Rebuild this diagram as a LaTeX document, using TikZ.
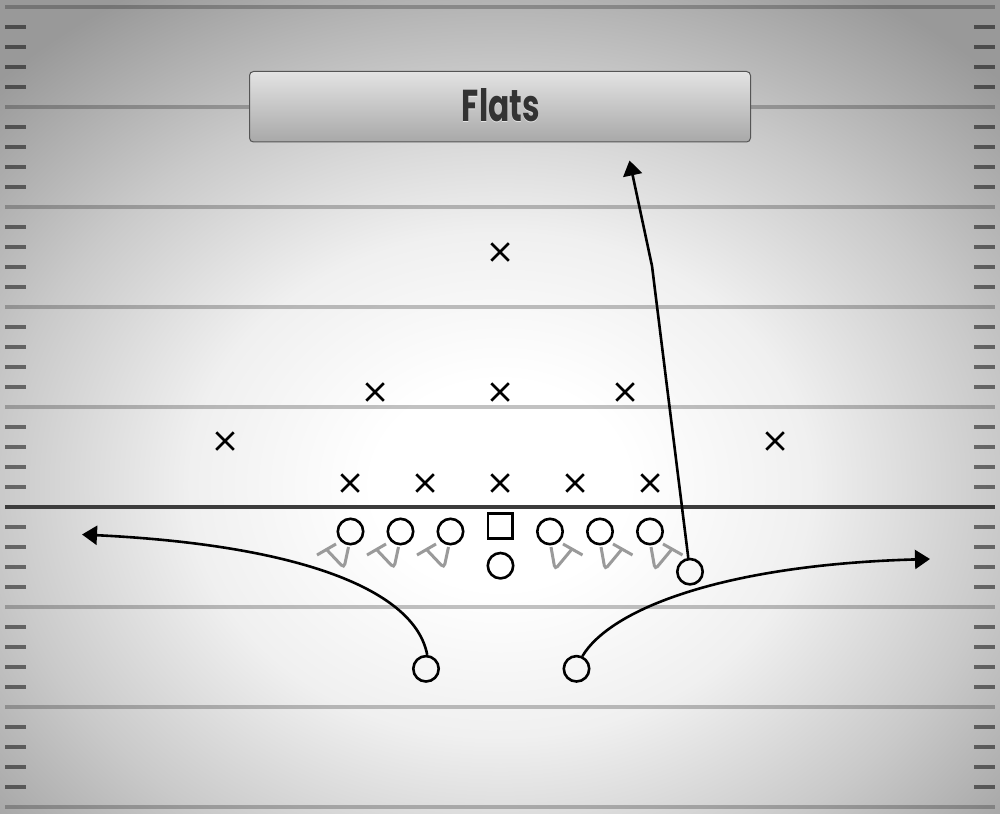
\documentclass[tikz,border=0pt]{standalone}
\usepackage{fontspec}
\newfontfamily\titlefont{Poppins}
\usetikzlibrary{arrows.meta,shapes.misc}
\definecolor{losgray}{HTML}{3C3C3C}
\definecolor{blockgray}{HTML}{9A9A9A}
\definecolor{titleink}{HTML}{333333}
\definecolor{boxborder}{HTML}{555555}
\pgfdeclareradialshading{fieldshade}{\pgfpoint{0bp}{0bp}}{color(0bp)=(white); color(4.5bp)=(white); color(11bp)=(black!6); color(17.7bp)=(black!21); color(25bp)=(black!40); color(50bp)=(black!40)}
\begin{document}
\begin{tikzpicture}[x=1pt,y=-1pt,
  yard/.style={line width=3.5pt, draw=black, draw opacity=0.24},
  hashmark/.style={line width=4pt, draw=black, draw opacity=0.5},
  scrimmage/.style={line width=4pt, draw=losgray},
  titlebox/.style={rectangle, rounded corners=4pt, draw=boxborder, line width=1pt,
    top color=black!11, bottom color=black!34, minimum width=501pt, minimum height=70.5pt, inner sep=0pt},
  titletext/.style={anchor=base, inner sep=0pt, text=titleink, font=\titlefont\bfseries},
  defender/.style={cross out, draw=black, line width=2.5pt, minimum size=15pt, inner sep=0pt},
  offense/.style={circle, draw=black, line width=2.6pt, minimum size=25.4pt, inner sep=0pt},
  snapbox/.style={rectangle, draw=black, line width=2.6pt, minimum size=24.5pt, inner sep=0pt},
  route/.style={line width=2.6pt, draw=black, -{Triangle[length=15pt,width=19pt]}},
  blockpath/.style={line width=3pt, draw=blockgray, rounded corners=4pt}
]
\clip (0,0) rectangle (1000,813);
\shade[shading=fieldshade] (-207,-90) rectangle (1207,1060);

% yard lines
\foreach \yy in {7,107,207,307,407,607,707,807}
  \draw[yard] (5,\yy) -- (995,\yy);
% hash marks
\foreach \base in {0,100,...,700}
  \foreach \k in {27,47,67,87} {
    \draw[hashmark] (5,\base+\k) -- (26,\base+\k);
    \draw[hashmark] (974,\base+\k) -- (995,\base+\k);
  }
% line of scrimmage
\draw[scrimmage] (5,507) -- (995,507);

% title
\node[titlebox] (title) at (500,106.75) {};
\node[titletext, text=white, opacity=0.6] (titleglow) at (501,123) {\resizebox{78pt}{33pt}{Flats}};
\node[titletext] (titlelabel) at (501,121.7) {\resizebox{78pt}{33pt}{Flats}};

% defense
\node[defender] (d1) at (500,252) {};
\node[defender] (d2) at (375,392) {};
\node[defender] (d3) at (500,392) {};
\node[defender] (d4) at (625,392) {};
\node[defender] (d5) at (225,441) {};
\node[defender] (d6) at (775,441) {};
\node[defender] (d7) at (350,483) {};
\node[defender] (d8) at (425,483) {};
\node[defender] (d9) at (500,483) {};
\node[defender] (d10) at (575,483) {};
\node[defender] (d11) at (650,483) {};

% offense
\node[offense] (lt) at (350.5,531.5) {};
\node[offense] (lg) at (400.5,531.5) {};
\node[offense] (lc) at (450.5,531.5) {};
\node[snapbox] (c) at (500.3,526) {};
\node[offense] (rc) at (550,531.5) {};
\node[offense] (rg) at (600,531.5) {};
\node[offense] (rt) at (650,531.5) {};
\node[offense] (qb) at (500.5,565.7) {};
\node[offense] (wr) at (690,571.7) {};
\node[offense] (b1) at (426,668.8) {};
\node[offense] (b2) at (576.5,668.8) {};

% blocking marks, left side
\foreach \p in {lt,lg,lc} {
  \begin{scope}[shift={(\p.center)}]
    \draw[blockpath] (-2,15.5) -- (-6.5,36.5) -- (-24,18);
    \draw[line width=3pt, draw=blockgray] (-33.5,23.5) -- (-14.5,12.5);
  \end{scope}
}
% blocking marks, right side
\foreach \p in {rc,rg,rt} {
  \begin{scope}[shift={(\p.center)}]
    \draw[blockpath] (1,15.5) -- (5,38) -- (22,17.5);
    \draw[line width=3pt, draw=blockgray] (13,12.5) -- (32.5,23.5);
  \end{scope}
}

% routes
\coordinate (k1) at (652,266);
\coordinate (t1) at (629.5,160.5);
\coordinate (t2) at (82,534.5);
\coordinate (t3) at (930,559);
\draw[route] (wr) -- (k1) -- (t1);
\draw[route] (b1.85) .. controls (415,590) and (300,545) .. (t2);
\draw[route] (b2.65) .. controls (610,610) and (720,565) .. (t3);
\end{tikzpicture}
\end{document}
